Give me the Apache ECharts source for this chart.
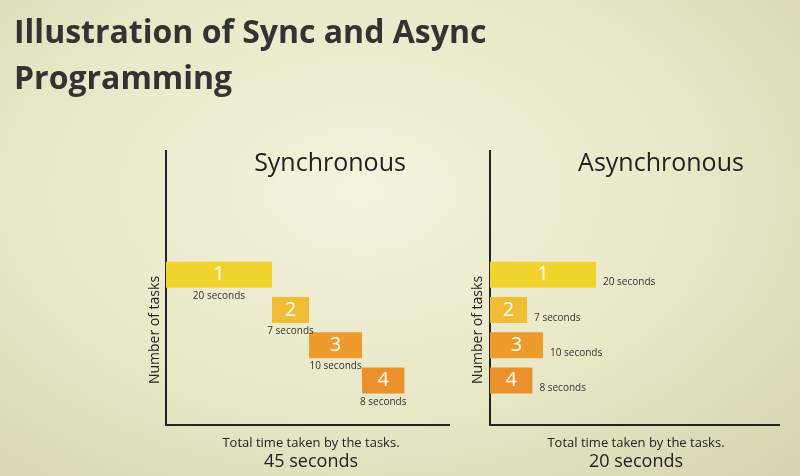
<!DOCTYPE html>
<html lang="en">
<head>
<meta charset="UTF-8" />
<title>Sync vs Async</title>
<script src="https://cdn.jsdelivr.net/npm/echarts@6/dist/echarts.min.js"></script>
<style>
  html, body { margin: 0; padding: 0; }
  body {
    width: 800px; height: 476px;
    background: radial-gradient(ellipse at 45% 40%, #f4f4de 0%, #e8e7c6 55%, #d6d4ae 100%);
  }
  #main { width: 800px; height: 476px; }
</style>
</head>
<body>
<div id="main"></div>
<script type="text/javascript">
  var tasks = ["1", "2", "3", "4"];
  var seconds = [20, 7, 10, 8];
  // where each task starts when run one after another
  var syncStart = [0, 20, 27, 37];
  var barColors = ["#f0d42c", "#f2bd36", "#ee9b2d", "#ec902b"];
  var totals = ["45 seconds", "20 seconds"];

  var font = "Open Sans";
  var chart = echarts.init(document.getElementById("main"));

  function coloredData() {
    return seconds.map(function (v, i) {
      return { value: v, itemStyle: { color: barColors[i] } };
    });
  }

  var option = {
    animation: false,
    textStyle: { fontFamily: font },
    title: [
      { text: "Illustration of Sync and Async\nProgramming", left: 9, top: 6,
        textStyle: { fontSize: 32, fontWeight: "bold", color: "#333", lineHeight: 46, fontFamily: font } },
      { text: "Synchronous", left: 325, top: 146, textAlign: "center",
        textStyle: { fontSize: 25, fontWeight: "normal", color: "#222", fontFamily: font } },
      { text: "Asynchronous", left: 656, top: 146, textAlign: "center",
        textStyle: { fontSize: 25, fontWeight: "normal", color: "#222", fontFamily: font } },
      { text: "Total time taken by the tasks.", subtext: totals[0], left: 306, top: 432, textAlign: "center", itemGap: 3,
        textStyle: { fontSize: 13, fontWeight: "normal", color: "#222", fontFamily: font },
        subtextStyle: { fontSize: 18, color: "#222", fontFamily: font } },
      { text: "Total time taken by the tasks.", subtext: totals[1], left: 631, top: 432, textAlign: "center", itemGap: 3,
        textStyle: { fontSize: 13, fontWeight: "normal", color: "#222", fontFamily: font },
        subtextStyle: { fontSize: 18, color: "#222", fontFamily: font } }
    ],
    grid: [
      { left: 166, top: 257, width: 284, height: 141 },
      { left: 490, top: 257, width: 290, height: 141 }
    ],
    xAxis: [
      { gridIndex: 0, type: "value", min: 0, max: 53.6, show: false },
      { gridIndex: 1, type: "value", min: 0, max: 54.7, show: false }
    ],
    yAxis: [
      { gridIndex: 0, type: "category", data: tasks, inverse: true, show: false },
      { gridIndex: 1, type: "category", data: tasks, inverse: true, show: false }
    ],
    graphic: [
      { type: "line", shape: { x1: 166, y1: 150, x2: 166, y2: 425 }, style: { stroke: "#222", lineWidth: 2 } },
      { type: "line", shape: { x1: 165, y1: 425, x2: 450, y2: 425 }, style: { stroke: "#222", lineWidth: 2 } },
      { type: "line", shape: { x1: 490, y1: 150, x2: 490, y2: 425 }, style: { stroke: "#222", lineWidth: 2 } },
      { type: "line", shape: { x1: 489, y1: 425, x2: 780, y2: 425 }, style: { stroke: "#222", lineWidth: 2 } },
      { type: "text", x: 155, y: 330, rotation: Math.PI / 2, style: { text: "Number of tasks", fill: "#222", fontSize: 14, fontFamily: font, align: "center", verticalAlign: "middle" } },
      { type: "text", x: 478, y: 330, rotation: Math.PI / 2, style: { text: "Number of tasks", fill: "#222", fontSize: 14, fontFamily: font, align: "center", verticalAlign: "middle" } }
    ],
    series: [
      {
        type: "bar", xAxisIndex: 0, yAxisIndex: 0, stack: "sync", barWidth: 26,
        data: syncStart, itemStyle: { color: "transparent" }, silent: true
      },
      {
        type: "bar", xAxisIndex: 0, yAxisIndex: 0, stack: "sync", barWidth: 26,
        data: coloredData(),
        label: {
          show: true, position: "inside",
          formatter: function (p) { return "{s|}\n{n|" + tasks[p.dataIndex] + "}\n{s|" + p.value + " seconds}"; },
          rich: {
            n: { fontSize: 20, color: "#fff", lineHeight: 26, fontFamily: font },
            s: { fontSize: 10, color: "#333", lineHeight: 17, fontFamily: font }
          }
        }
      },
      {
        type: "bar", xAxisIndex: 1, yAxisIndex: 1, barWidth: 26,
        data: coloredData(),
        label: {
          show: true, position: "inside", fontSize: 20, color: "#fff", fontFamily: font,
          formatter: function (p) { return tasks[p.dataIndex]; }
        }
      },
      {
        type: "bar", xAxisIndex: 1, yAxisIndex: 1, barWidth: 26, barGap: "-100%",
        data: seconds, itemStyle: { color: "transparent" }, silent: true,
        label: {
          show: true, position: "right", distance: 7, offset: [0, 8],
          fontSize: 10, color: "#333", fontFamily: font,
          formatter: "{c} seconds"
        }
      }
    ]
  };

  chart.setOption(option);
</script>
</body>
</html>
